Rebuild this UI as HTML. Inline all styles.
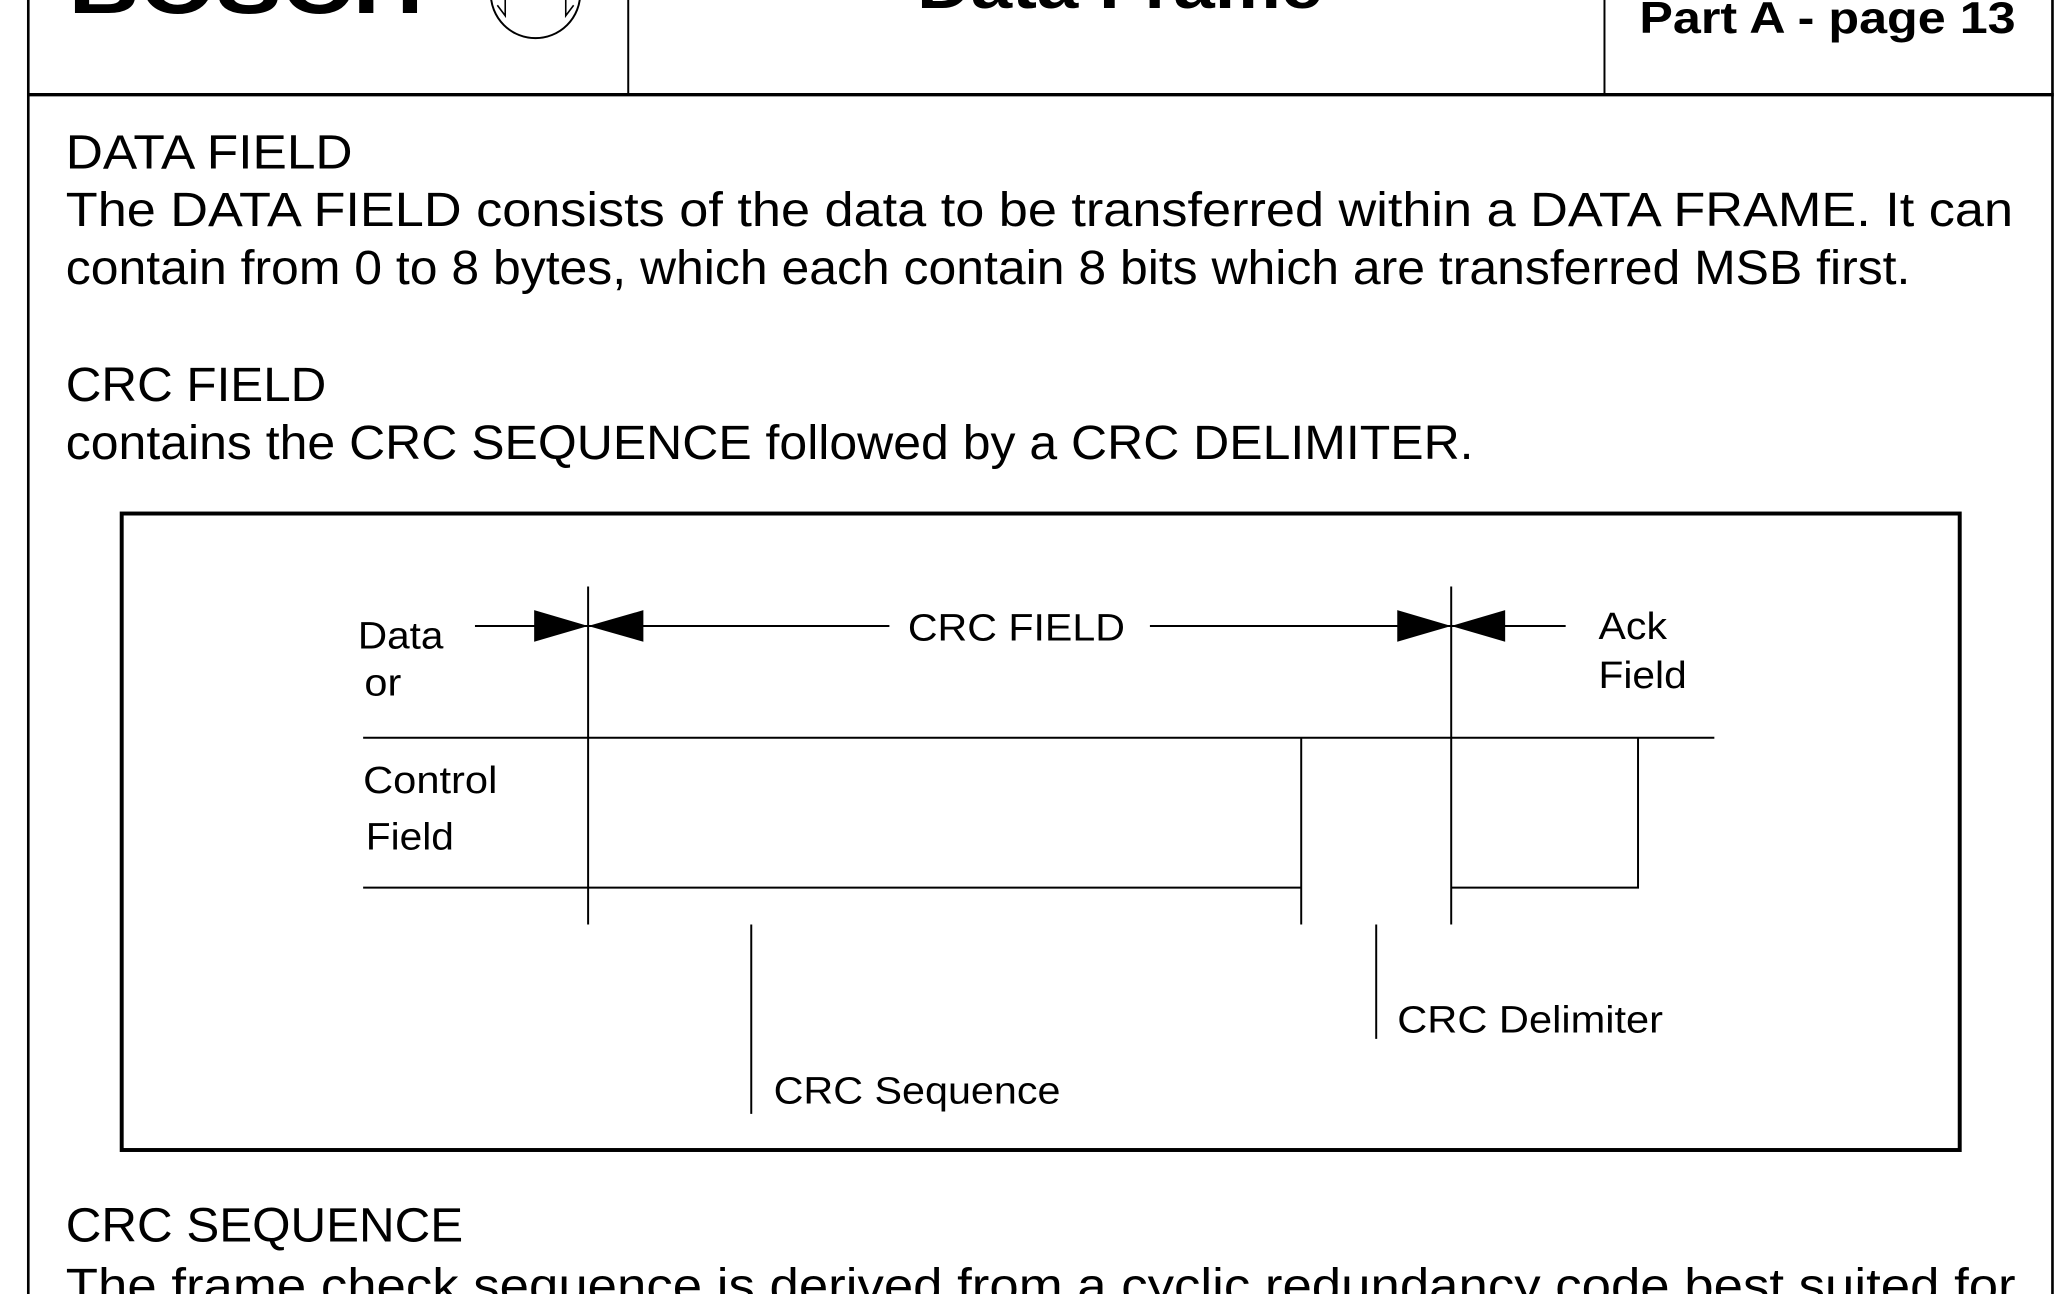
<!DOCTYPE html>
<html><head><meta charset="utf-8"><style>html,body{margin:0;padding:0;background:#fff;overflow:hidden}svg{display:block}</style></head>
<body>
<svg width="2063" height="1294" viewBox="0 0 1568 984" preserveAspectRatio="none" xmlns="http://www.w3.org/2000/svg" font-family="Liberation Sans, sans-serif" fill="#000">
<g stroke="#000" fill="none">
<line x1="21.5" y1="0" x2="21.5" y2="984" stroke-width="2"/>
<line x1="1560" y1="0" x2="1560" y2="984" stroke-width="2"/>
<line x1="21" y1="72" x2="1561" y2="72" stroke-width="2.5"/>
<line x1="477.5" y1="0" x2="477.5" y2="72" stroke-width="1.5"/>
<line x1="1219.5" y1="0" x2="1219.5" y2="72" stroke-width="1.5"/>
<circle cx="407" cy="-5" r="34" stroke-width="1.5"/>
<path d="M378 4 L384 12 L384 -5 M436 4 L430 12 L430 -5" stroke-width="1.2"/>
<rect x="92.5" y="390.5" width="1397" height="484" stroke-width="3"/>
<g stroke-width="1.5">
<line x1="447" y1="446" x2="447" y2="703"/>
<line x1="1103" y1="446" x2="1103" y2="703"/>
<line x1="276" y1="561" x2="1303" y2="561"/>
<line x1="276" y1="675" x2="989" y2="675"/>
<line x1="989" y1="561" x2="989" y2="703"/>
<polyline points="1103,675 1245,675 1245,561"/>
<line x1="571" y1="703" x2="571" y2="847"/>
<line x1="1046" y1="703" x2="1046" y2="790"/>
<line x1="361" y1="476" x2="447" y2="476"/>
<line x1="447" y1="476" x2="676" y2="476"/>
<line x1="874" y1="476" x2="1190" y2="476"/>
</g>
</g>
<polygon points="406,464 447,476 406,488"/>
<polygon points="489,464 447,476 489,488"/>
<polygon points="1062,464 1103,476 1062,488"/>
<polygon points="1144,464 1103,476 1144,488"/>
<text x="52" y="10" font-size="62" font-weight="bold" textLength="270" lengthAdjust="spacingAndGlyphs">BOSCH</text>
<text x="697" y="6" font-size="48" font-weight="bold" textLength="308" lengthAdjust="spacingAndGlyphs">Data Frame</text>
<text x="1246" y="25" font-size="34" font-weight="bold" textLength="286" lengthAdjust="spacingAndGlyphs">Part A - page 13</text>
<g font-size="37">
<text x="50" y="128" textLength="218" lengthAdjust="spacingAndGlyphs">DATA FIELD</text>
<text x="50" y="172" textLength="1480" lengthAdjust="spacingAndGlyphs">The DATA FIELD consists of the data to be transferred within a DATA FRAME. It can</text>
<text x="50" y="216" textLength="1402" lengthAdjust="spacingAndGlyphs">contain from 0 to 8 bytes, which each contain 8 bits which are transferred MSB first.</text>
<text x="50" y="305" textLength="198" lengthAdjust="spacingAndGlyphs">CRC FIELD</text>
<text x="50" y="349" textLength="1070" lengthAdjust="spacingAndGlyphs">contains the CRC SEQUENCE followed by a CRC DELIMITER.</text>
<text x="50" y="944" textLength="302" lengthAdjust="spacingAndGlyphs">CRC SEQUENCE</text>
<text x="50" y="990" textLength="1482" lengthAdjust="spacingAndGlyphs">The frame check sequence is derived from a cyclic redundancy code best suited for</text>
</g>
<g font-size="29">
<text x="272" y="493" textLength="65" lengthAdjust="spacingAndGlyphs">Data</text>
<text x="277" y="529" textLength="28" lengthAdjust="spacingAndGlyphs">or</text>
<text x="690" y="487" textLength="165" lengthAdjust="spacingAndGlyphs">CRC FIELD</text>
<text x="1215" y="486" textLength="52" lengthAdjust="spacingAndGlyphs">Ack</text>
<text x="1215" y="523" textLength="67" lengthAdjust="spacingAndGlyphs">Field</text>
<text x="276" y="603" textLength="102" lengthAdjust="spacingAndGlyphs">Control</text>
<text x="278" y="646" textLength="67" lengthAdjust="spacingAndGlyphs">Field</text>
<text x="1062" y="785" textLength="202" lengthAdjust="spacingAndGlyphs">CRC Delimiter</text>
<text x="588" y="839" textLength="218" lengthAdjust="spacingAndGlyphs">CRC Sequence</text>
</g>
</svg>
</body></html>
